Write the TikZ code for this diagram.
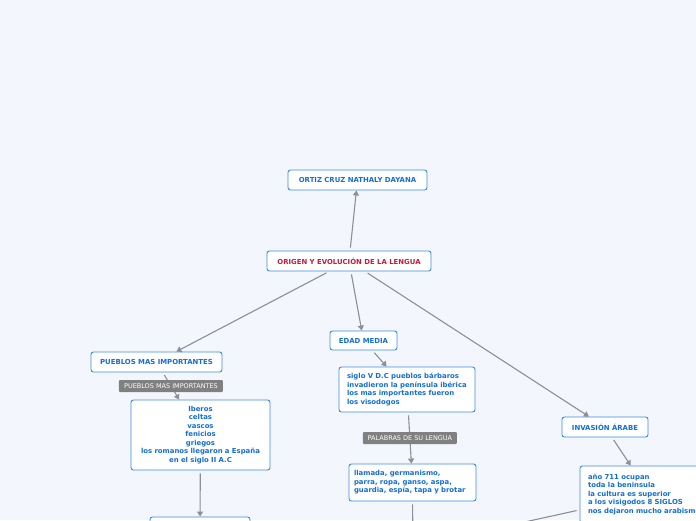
\documentclass[tikz,border=0pt]{standalone}
\usepackage{fontspec}
\setsansfont{DejaVu Sans}
\usetikzlibrary{arrows.meta}
\definecolor{bgc}{RGB}{243,246,253}
\definecolor{bordc}{RGB}{58,140,226}
\definecolor{txtc}{RGB}{20,110,214}
\definecolor{redc}{RGB}{196,28,58}
\definecolor{edgec}{RGB}{138,143,153}
\definecolor{lblc}{RGB}{128,128,128}
\tikzset{
  box/.style={draw=bordc, line width=0.9pt, rounded corners=2.5pt, fill=white,
    font=\sffamily\bfseries\fontsize{6.9}{8.5}\selectfont, text=txtc, inner sep=0pt},
  lbl/.style={fill=lblc, text=white, inner sep=0pt, rounded corners=1pt,
    font=\sffamily\fontsize{6.5}{7}\selectfont},
  conn/.style={draw=edgec, line width=1.1pt, shorten <=3pt,
    -{Triangle[width=6pt,length=5pt]}},
}
\begin{document}
\begin{tikzpicture}[x=1pt,y=1pt]
\useasboundingbox (0,0) rectangle (696,-520);
\clip (0,0) rectangle (696,-520);
\fill[bgc] (0,0) rectangle (696,-520);

\node[box, minimum width=139pt, minimum height=20pt] (ortiz) at (357.5,-180) {ORTIZ CRUZ NATHALY DAYANA};
\node[box, text=redc, minimum width=164pt, minimum height=20pt] (origen) at (349,-261) {ORIGEN Y EVOLUCIÓN DE LA LENGUA};
\node[box, minimum width=67pt, minimum height=19pt] (edad) at (363.5,-340.5) {EDAD MEDIA};
\node[box, minimum width=131pt, minimum height=20pt] (pueblos) at (156.5,-362) {PUEBLOS MAS IMPORTANTES};
\node[box, minimum width=139pt, minimum height=70pt, text width=139pt, align=center] (iberos) at (200.5,-435)
  {Iberos\\celtas\\vascos\\fenicios\\griegos\\los romanos llegaron a España\\en el siglo II A.C};
\node[box, minimum width=100pt, minimum height=20pt] (bottom) at (200,-527) {};
\node[box, minimum height=45pt, text width=120pt, inner xsep=8pt, align=left] (siglo) at (407,-389.5)
  {siglo V D.C pueblos bárbaros\\invadieron la península ibérica\\los mas importantes fueron\\los visodogos};
\node[box, minimum height=37pt, text width=117pt, inner xsep=5pt, align=left] (llamada) at (412.5,-482.5)
  {llamada, germanismo,\\parra, ropa, ganso, aspa,\\guardia, espía, tapa y brotar};
\node[box, minimum width=86pt, minimum height=20pt] (invasion) at (605,-427) {INVASIÓN ÁRABE};
\node[box, minimum height=57pt, text width=124pt, inner xsep=8pt, align=left] (ano) at (650,-494.5)
  {año 711 ocupan\\toda la beninsula\\la cultura es superior\\a los visigodos 8 SIGLOS\\nos dejaron mucho arabismos};

\coordinate (offA) at (413,-570);
\coordinate (offB) at (420,-545);

\draw[conn] (origen) -- (ortiz);
\draw[conn] (origen) -- (pueblos);
\draw[conn] (origen) -- (edad);
\draw[conn] (origen) -- (invasion);
\draw[conn] (pueblos) -- node[lbl, minimum width=104pt, minimum height=12pt] (lblA) {PUEBLOS MAS IMPORTANTES} (iberos);
\draw[conn] (iberos) -- (bottom);
\draw[conn] (edad) -- (siglo);
\draw[conn] (siglo) -- node[lbl, minimum width=94pt, minimum height=12pt] (lblB) {PALABRAS DE SU LENGUA} (llamada);
\draw[conn] (llamada) -- (offA);
\draw[conn] (invasion) -- (ano);
\draw[conn] (ano) -- (offB);
\end{tikzpicture}
\end{document}
